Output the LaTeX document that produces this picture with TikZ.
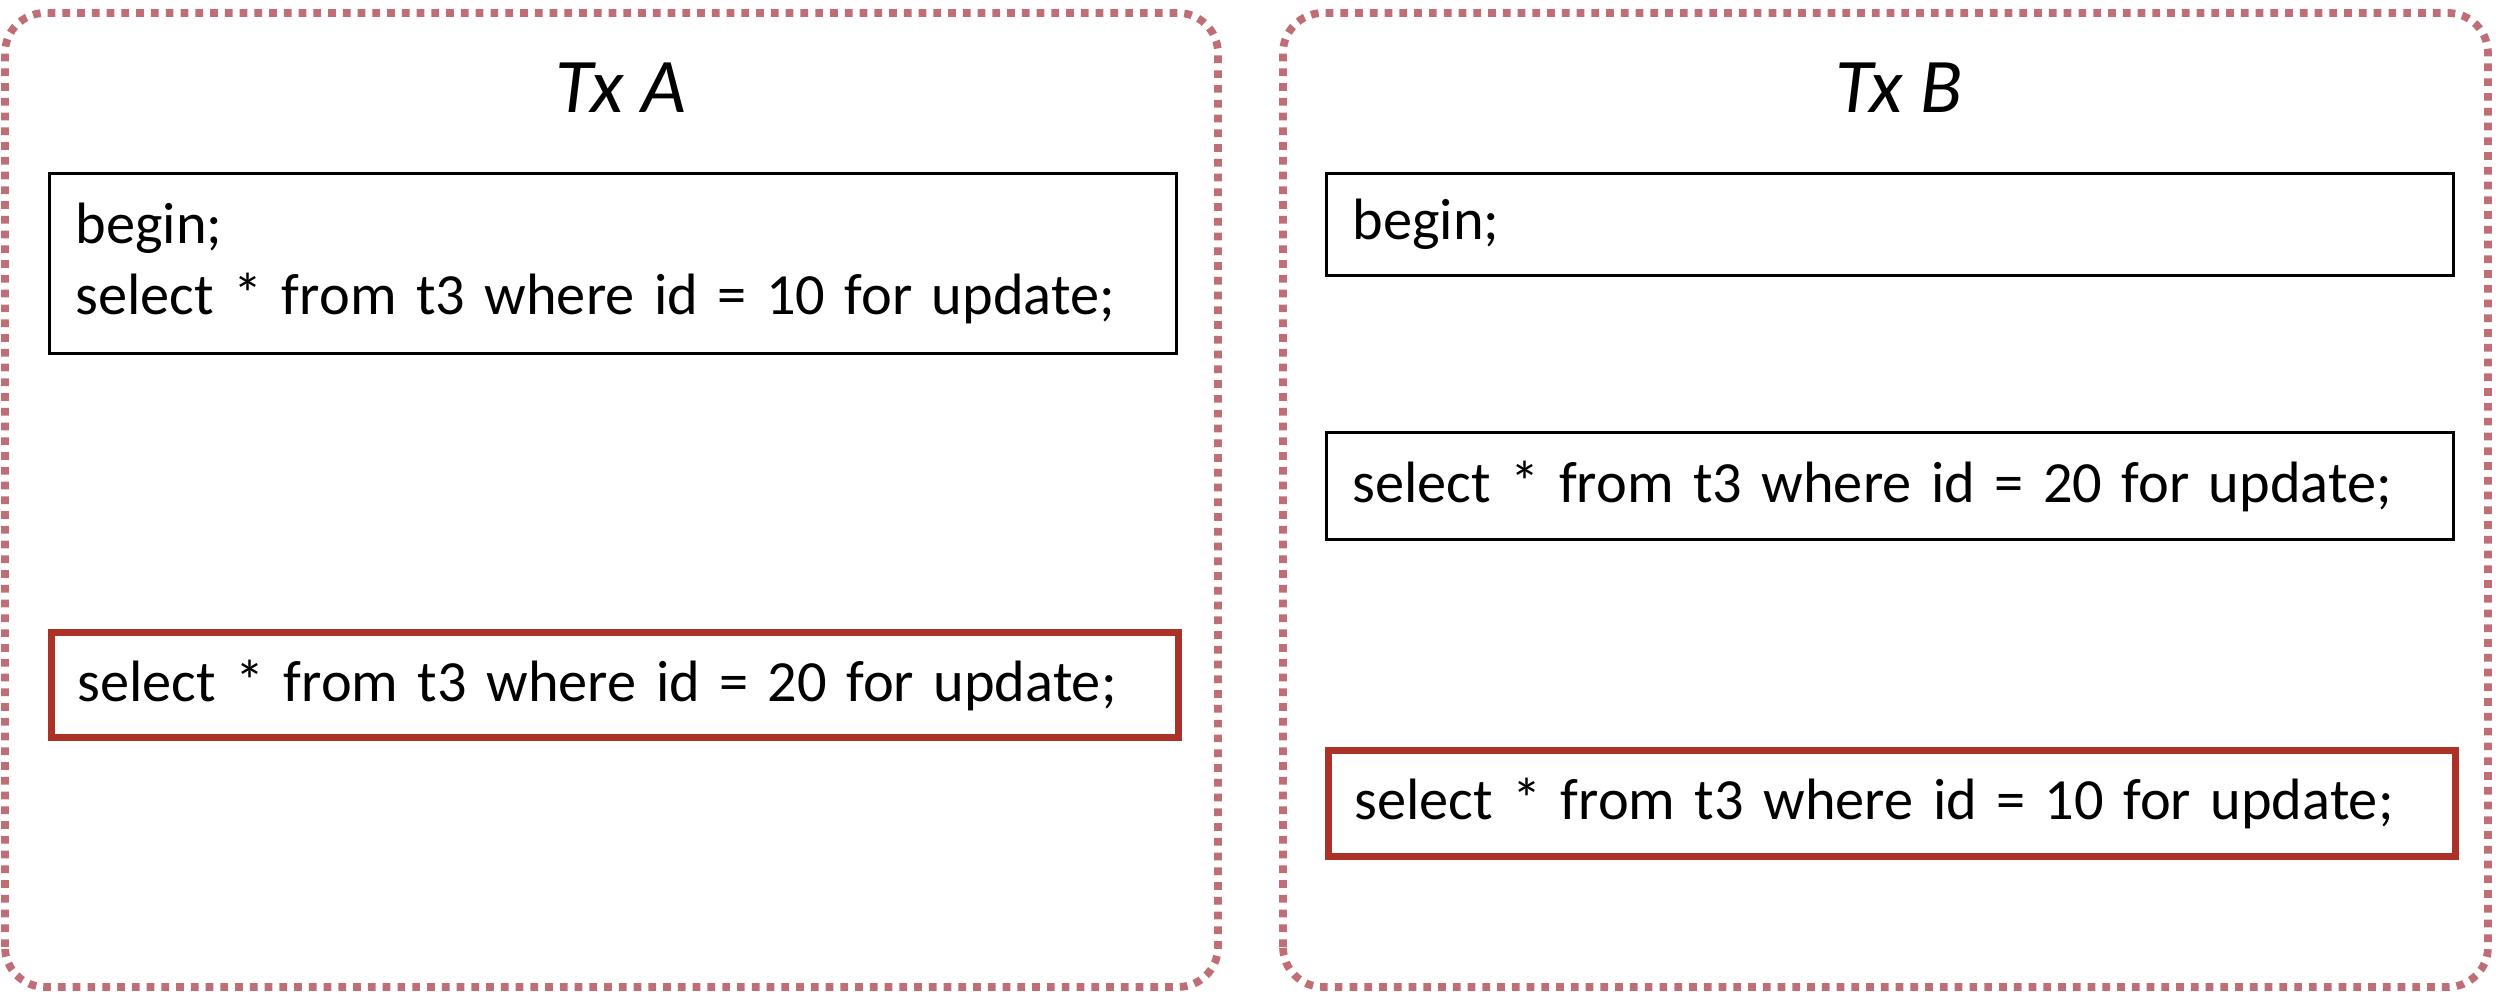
\documentclass[tikz,border=0pt]{standalone}
\usepackage{fontspec}
\setmainfont{Carlito}
\definecolor{panelred}{RGB}{192,110,118}
\definecolor{lockred}{RGB}{172,50,40}
\tikzset{
  panel/.style={draw=panelred, line width=2.2pt, dotted, rounded corners=0.4cm},
  stmt/.style={draw, line width=0.9pt, anchor=north west, minimum width=11.27cm,
    align=left, text width=10.75cm, inner sep=0.25cm, font=\fontsize{16.6}{20}\selectfont},
  waiting/.style={stmt, draw=lockred, line width=2pt},
  title/.style={font=\fontsize{22}{26}\selectfont\itshape}
}
\begin{document}
\begin{tikzpicture}
  \useasboundingbox (0,0) rectangle (24.96,9.94);
  % the two transactions
  \draw[panel] (0.05,0.07) rectangle (12.18,9.81);
  \draw[panel] (12.83,0.07) rectangle (24.88,9.81);
  \node[title] (tA) at (6.21,9.06) {Tx A};
  \node[title] (tB) at (18.99,9.06) {Tx B};
  % Tx A
  \node[stmt, minimum height=1.8cm] (a1) at (0.48,8.22) {begin;\\select * from t3 where id = 10 for update;};
  \node[waiting, minimum height=1.05cm] (a2) at (0.48,3.65) {select * from t3 where id = 20 for update;};
  % Tx B
  \node[stmt, minimum height=1.02cm] (b1) at (13.25,8.22) {begin;};
  \node[stmt, minimum height=1.07cm] (b2) at (13.25,5.63) {select * from t3 where id = 20 for update;};
  \node[waiting, minimum height=1.06cm] (b3) at (13.25,2.47) {select * from t3 where id = 10 for update;};
\end{tikzpicture}
\end{document}
